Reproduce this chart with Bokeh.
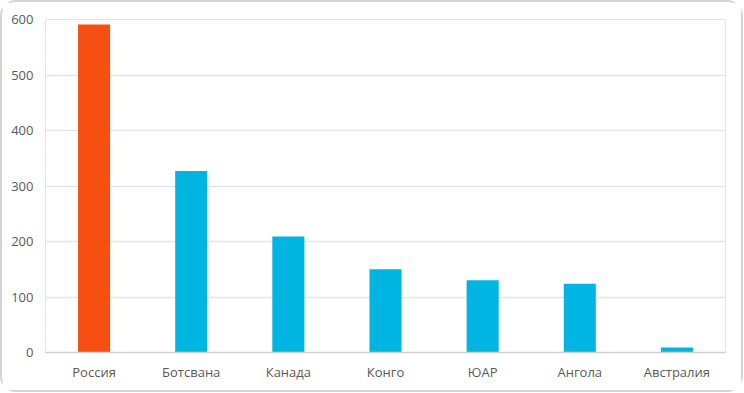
from bokeh.plotting import figure
from bokeh.models import ColumnDataSource, Range1d, FixedTicker
from bokeh.embed import file_html
from bokeh.resources import INLINE

countries = ["Россия", "Ботсвана", "Канада", "Конго", "ЮАР", "Ангола", "Австралия"]
values = [591, 327, 209, 150, 130, 124, 9]
colors = ["#F54F13"] + ["#00B5E2"] * 6
y_ticks = [0, 100, 200, 300, 400, 500, 600]

src = ColumnDataSource(dict(x=countries, top=values, color=colors))

p = figure(x_range=countries, y_range=Range1d(0, 600), width=743, height=392,
           output_backend="svg", toolbar_location=None,
           min_border_left=43, min_border_right=20, min_border_top=17, min_border_bottom=42)
p.styles = {"border": "2px solid #d3d3d3", "border-radius": "16px"}
p.vbar(x="x", top="top", width=0.33, color="color", source=src, line_color=None)

p.outline_line_color = "#dfe6ea"
p.xgrid.grid_line_color = None
p.ygrid.grid_line_color = "#dfe6ea"
p.ygrid.grid_line_width = 1.5
p.yaxis.ticker = FixedTicker(ticks=y_ticks)
p.yaxis.axis_line_color = None
p.yaxis.major_tick_line_color = None
p.yaxis.minor_tick_line_color = None
p.yaxis.major_label_standoff = 6
p.xaxis.axis_line_color = "#d0d0d0"
p.xaxis.axis_line_width = 1.5
p.xaxis.major_tick_line_color = None
p.xaxis.minor_tick_line_color = None
p.xaxis.major_label_standoff = 4
for ax in (p.xaxis, p.yaxis):
    ax.major_label_text_font = "Open Sans"
    ax.major_label_text_font_size = "13px"
    ax.major_label_text_color = "#595959"

open("out.html", "w").write(file_html(p, INLINE))
